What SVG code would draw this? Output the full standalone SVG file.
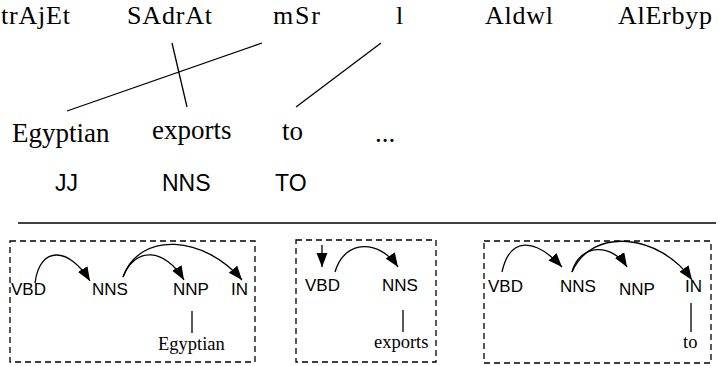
<svg xmlns="http://www.w3.org/2000/svg" width="719" height="366" viewBox="0 0 719 366">
<style>
.ser{font-family:"Liberation Serif","Times New Roman",serif;fill:#000}
.big{font-size:27px}
.top{font-size:26px}
.sm{font-size:18.5px}
.sans{font-family:"Liberation Sans",Arial,sans-serif;fill:#000}
.tag{font-size:23px}
.lab{font-size:17px}
.ln{stroke:#000;stroke-width:1.3;fill:none}
.arc{stroke:#000;stroke-width:1.3;fill:none;marker-end:url(#ah)}
.box{stroke:#000;stroke-width:1.3;fill:none;stroke-dasharray:6 4}
</style>
<defs>
<marker id="ah" markerWidth="15" markerHeight="12" refX="14" refY="5.5" orient="auto" markerUnits="userSpaceOnUse">
<path d="M0,0 L14,5.5 L0,11 z" fill="#000"/>
</marker>
</defs>
<g id="arabic">
<g id="w-trAjEt"><text class="ser top" x="1" y="24" textLength="69" lengthAdjust="spacing">trAjEt</text></g>
<g id="w-SAdrAt"><text class="ser top" x="127" y="24" textLength="85" lengthAdjust="spacing">SAdrAt</text></g>
<g id="w-mSr"><text class="ser top" x="273" y="24" textLength="47" lengthAdjust="spacing">mSr</text></g>
<g id="w-l"><text class="ser top" x="396" y="24">l</text></g>
<g id="w-Aldwl"><text class="ser top" x="485" y="24" textLength="68" lengthAdjust="spacing">Aldwl</text></g>
<g id="w-AlErbyp"><text class="ser top" x="618" y="24" textLength="94" lengthAdjust="spacing">AlErbyp</text></g>
</g>
<g id="english">
<g id="w-Egyptian"><text class="ser big" x="12" y="142">Egyptian</text></g>
<g id="w-exports"><text class="ser big" x="152" y="139">exports</text></g>
<g id="w-to"><text class="ser big" x="282" y="140">to</text></g>
<g id="w-dots"><text class="ser big" x="375" y="142">...</text></g>
</g>
<g id="tags">
<g id="t-JJ"><text class="sans tag" x="55" y="191">JJ</text></g>
<g id="t-NNS"><text class="sans tag" x="162" y="191">NNS</text></g>
<g id="t-TO"><text class="sans tag" x="275" y="191">TO</text></g>
</g>
<g id="connectors">
<line class="ln" x1="262" y1="43" x2="67" y2="111"/>
<line class="ln" x1="172" y1="43" x2="187" y2="107"/>
<line class="ln" x1="381" y1="43" x2="296" y2="107"/>
<line class="ln" x1="18" y1="223" x2="716" y2="223" stroke-width="1.5"/>
</g>
<g id="tree1">
<rect class="box" x="10" y="241" width="245" height="121"/>
<text class="sans lab" x="11" y="295">VBD</text>
<text class="sans lab" x="92" y="295">NNS</text>
<text class="sans lab" x="173" y="295">NNP</text>
<text class="sans lab" x="231" y="295">IN</text>
<line class="ln" x1="192" y1="311" x2="192" y2="333"/>
<text class="ser sm" x="158" y="350">Egyptian</text>
<path class="arc" d="M35,283 C40,244 70,248 90,281"/>
<path class="arc" d="M123,277 C135,246 165,248 184,280"/>
<path class="arc" d="M123,277 C140,230 205,236 242,280"/>
</g>
<g id="tree2">
<rect class="box" x="296" y="240" width="140" height="122"/>
<text class="sans lab" x="305" y="291">VBD</text>
<text class="sans lab" x="382" y="291">NNS</text>
<line class="ln" x1="403" y1="310" x2="403" y2="332"/>
<text class="ser sm" x="374" y="348">exports</text>
<path class="arc" d="M322,245 L322,267"/>
<path class="arc" d="M335,272 C345,238 380,240 398,267"/>
</g>
<g id="tree3">
<rect class="box" x="484" y="241" width="227" height="122"/>
<text class="sans lab" x="488" y="292">VBD</text>
<text class="sans lab" x="560" y="292">NNS</text>
<text class="sans lab" x="619" y="295">NNP</text>
<text class="sans lab" x="685" y="292">IN</text>
<line class="ln" x1="691" y1="303" x2="691" y2="332"/>
<text class="ser sm" x="683" y="348">to</text>
<path class="arc" d="M502,272 C510,236 535,238 562,267"/>
<path class="arc" d="M572,272 C580,243 612,243 627,267"/>
<path class="arc" d="M572,272 C592,226 660,234 692,280"/>
</g>
</svg>
